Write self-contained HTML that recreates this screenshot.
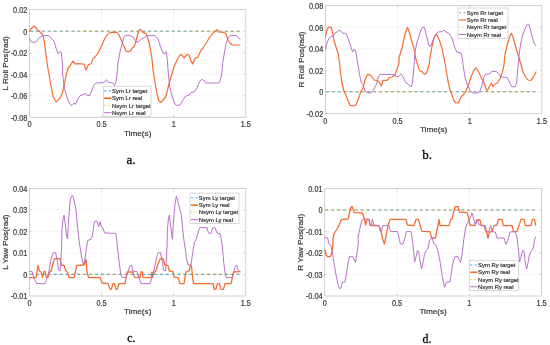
<!DOCTYPE html><html><head><meta charset="utf-8"><title>figure</title><style>html,body{margin:0;padding:0;background:#fff}svg{display:block}text{font-family:"Liberation Sans",sans-serif;stroke:#3a3a3a;stroke-width:0.22px;paint-order:stroke}</style></head><body>
<svg width="550" height="345" viewBox="0 0 550 345">
<rect width="550" height="345" fill="#fff"/>
<g>
<line x1="101.6" y1="9.6" x2="101.6" y2="117.3" stroke="#f4f4f4" stroke-width="0.8"/>
<line x1="173.7" y1="9.6" x2="173.7" y2="117.3" stroke="#f4f4f4" stroke-width="0.8"/>
<line x1="29.5" y1="31.1" x2="245.8" y2="31.1" stroke="#f4f4f4" stroke-width="0.8"/>
<line x1="29.5" y1="52.7" x2="245.8" y2="52.7" stroke="#f4f4f4" stroke-width="0.8"/>
<line x1="29.5" y1="74.2" x2="245.8" y2="74.2" stroke="#f4f4f4" stroke-width="0.8"/>
<line x1="29.5" y1="95.8" x2="245.8" y2="95.8" stroke="#f4f4f4" stroke-width="0.8"/>
<rect x="29.5" y="9.6" width="216.3" height="107.7" fill="none" stroke="#c6c6c6" stroke-width="0.8"/>
<line x1="101.6" y1="117.3" x2="101.6" y2="115.3" stroke="#c6c6c6" stroke-width="0.8"/>
<line x1="101.6" y1="9.6" x2="101.6" y2="11.6" stroke="#c6c6c6" stroke-width="0.8"/>
<line x1="173.7" y1="117.3" x2="173.7" y2="115.3" stroke="#c6c6c6" stroke-width="0.8"/>
<line x1="173.7" y1="9.6" x2="173.7" y2="11.6" stroke="#c6c6c6" stroke-width="0.8"/>
<line x1="29.5" y1="31.1" x2="31.5" y2="31.1" stroke="#c6c6c6" stroke-width="0.8"/>
<line x1="245.8" y1="31.1" x2="243.8" y2="31.1" stroke="#c6c6c6" stroke-width="0.8"/>
<line x1="29.5" y1="52.7" x2="31.5" y2="52.7" stroke="#c6c6c6" stroke-width="0.8"/>
<line x1="245.8" y1="52.7" x2="243.8" y2="52.7" stroke="#c6c6c6" stroke-width="0.8"/>
<line x1="29.5" y1="74.2" x2="31.5" y2="74.2" stroke="#c6c6c6" stroke-width="0.8"/>
<line x1="245.8" y1="74.2" x2="243.8" y2="74.2" stroke="#c6c6c6" stroke-width="0.8"/>
<line x1="29.5" y1="95.8" x2="31.5" y2="95.8" stroke="#c6c6c6" stroke-width="0.8"/>
<line x1="245.8" y1="95.8" x2="243.8" y2="95.8" stroke="#c6c6c6" stroke-width="0.8"/>
<text transform="translate(27.3,13.0) scale(0.88,1)" font-size="8.3" text-anchor="end" fill="#3a3a3a">0.02</text>
<text transform="translate(27.3,34.5) scale(0.88,1)" font-size="8.3" text-anchor="end" fill="#3a3a3a">0</text>
<text transform="translate(27.3,56.1) scale(0.88,1)" font-size="8.3" text-anchor="end" fill="#3a3a3a">-0.02</text>
<text transform="translate(27.3,77.6) scale(0.88,1)" font-size="8.3" text-anchor="end" fill="#3a3a3a">-0.04</text>
<text transform="translate(27.3,99.2) scale(0.88,1)" font-size="8.3" text-anchor="end" fill="#3a3a3a">-0.06</text>
<text transform="translate(27.3,120.7) scale(0.88,1)" font-size="8.3" text-anchor="end" fill="#3a3a3a">-0.08</text>
<text transform="translate(29.5,127.4) scale(0.88,1)" font-size="8.3" text-anchor="middle" fill="#3a3a3a">0</text>
<text transform="translate(101.6,127.4) scale(0.88,1)" font-size="8.3" text-anchor="middle" fill="#3a3a3a">0.5</text>
<text transform="translate(173.7,127.4) scale(0.88,1)" font-size="8.3" text-anchor="middle" fill="#3a3a3a">1</text>
<text transform="translate(245.8,127.4) scale(0.88,1)" font-size="8.3" text-anchor="middle" fill="#3a3a3a">1.5</text>
<text transform="translate(137.7,135.7) scale(1.12,1)" font-size="7.3" text-anchor="middle" fill="#3a3a3a">Time(s)</text>
<text transform="translate(7.8,63.4) rotate(-90) scale(1.12,1)" font-size="7.3" text-anchor="middle" fill="#3a3a3a">L Roll Pos(rad)</text>
<line x1="29.5" y1="31.2" x2="240.0" y2="31.2" stroke="#F9CF66" stroke-width="1.1" stroke-dasharray="4.2 1.7"/>
<line x1="29.5" y1="31.2" x2="240.0" y2="31.2" stroke="#55ABE9" stroke-width="1.1" stroke-dasharray="2.6 3.3" stroke-dashoffset="-0.8"/>
<polyline points="29.4,31.2 31.0,29.0 34.0,26.0 35.4,27.0 37.0,29.4 39.0,31.0 41.0,33.0 43.0,35.0 44.4,42.0 46.0,55.0 48.0,69.0 49.0,74.0 51.0,86.0 53.0,96.0 55.0,100.0 56.4,102.0 58.0,100.0 60.0,98.0 62.0,94.0 64.0,86.0 66.0,76.0 68.0,68.0 70.0,66.0 73.0,61.0 75.0,64.0 77.4,63.6 84.0,64.0 86.0,70.0 88.6,64.4 91.0,64.0 93.0,58.6 95.0,57.0 98.0,53.0 101.0,47.0 105.0,38.0 109.0,33.0 111.0,32.4 117.0,32.4 119.0,35.0 123.0,44.0 126.0,51.0 128.0,51.6 131.0,50.6 132.0,48.0 134.0,47.0 136.0,41.0 138.0,33.0 139.6,29.4 141.0,30.0 143.0,32.6 146.0,33.4 148.0,39.0 150.0,47.0 152.0,59.0 153.0,70.0 155.0,82.0 157.0,94.0 159.0,101.0 161.0,102.4 163.0,100.0 165.6,97.0 168.0,88.0 170.0,80.0 173.0,70.0 174.0,67.0 177.0,60.0 180.0,55.0 181.6,54.4 184.0,58.0 187.0,54.4 189.0,55.0 191.0,61.0 192.6,64.0 195.0,58.6 198.0,57.0 201.0,50.0 203.0,48.0 207.0,42.0 209.0,38.0 213.0,33.0 216.0,31.0 217.0,29.6 218.0,32.0 224.0,32.4 226.0,34.0 228.0,40.0 230.0,43.0 232.0,45.0 240.0,45.0" fill="none" stroke="#F36D30" stroke-width="1.2" stroke-linejoin="round" stroke-linecap="round"/>
<polyline points="29.4,38.0 31.0,41.6 33.0,42.4 36.0,42.0 39.0,38.0 42.0,36.0 45.0,35.6 49.0,35.6 51.0,38.0 54.0,41.0 56.0,48.0 58.0,53.6 60.6,51.4 61.4,53.0 62.6,65.0 62.6,74.0 64.0,86.0 66.0,94.0 68.0,100.0 70.0,104.4 72.0,105.4 74.0,103.0 75.4,104.4 77.4,100.0 79.0,97.0 81.0,95.0 83.0,95.0 85.0,93.0 87.0,95.4 90.0,95.4 92.0,90.0 94.0,85.0 96.0,83.0 104.0,82.6 106.4,79.6 108.0,82.0 113.0,83.0 114.6,85.6 116.0,82.0 117.0,74.0 118.0,63.0 120.0,52.0 122.0,44.0 124.0,37.0 125.0,35.6 130.0,35.6 133.0,37.0 136.0,42.0 139.0,41.6 141.0,39.0 144.0,38.0 147.0,35.6 155.0,35.6 158.0,39.0 160.0,45.0 162.0,51.0 164.0,54.0 166.4,52.0 167.6,63.0 168.0,70.0 169.6,86.0 172.0,96.0 175.0,104.4 177.0,105.4 180.0,105.0 183.0,100.0 185.0,97.0 187.0,95.4 189.0,95.4 191.0,92.4 194.0,92.0 197.0,88.0 200.0,81.0 201.6,79.4 203.6,80.0 205.6,83.0 219.0,83.0 221.0,78.0 222.4,68.0 222.4,65.0 224.0,55.0 226.0,44.0 228.0,38.0 230.0,35.6 236.0,35.6 239.0,38.0 240.0,39.4" fill="none" stroke="#B56CC6" stroke-width="0.95" stroke-linejoin="round" stroke-linecap="round"/>
<rect x="103.3" y="86.2" width="47.7" height="30.1" fill="#fff" stroke="#c8c8c8" stroke-width="0.7"/>
<line x1="104.2" y1="90.9" x2="111.5" y2="90.9" stroke="#55ABE9" stroke-width="1.1" stroke-dasharray="2.2 2.4"/>
<text x="112.1" y="93.0" font-size="5.9" fill="#3a3a3a">Sym Lr target</text>
<line x1="104.2" y1="98.2" x2="111.5" y2="98.2" stroke="#F36D30" stroke-width="1.8"/>
<text x="112.1" y="100.3" font-size="5.9" fill="#3a3a3a">Sym Lr real</text>
<line x1="104.2" y1="105.4" x2="111.5" y2="105.4" stroke="#F9CF66" stroke-width="1.1" stroke-dasharray="1.7 2.0"/>
<text x="112.1" y="107.5" font-size="5.9" fill="#3a3a3a">Nsym Lr target</text>
<line x1="104.2" y1="112.7" x2="111.5" y2="112.7" stroke="#B56CC6" stroke-width="1.0"/>
<text x="112.1" y="114.8" font-size="5.9" fill="#3a3a3a">Nsym Lr real</text>
<text x="131.0" y="163.7" font-size="13.2" text-anchor="middle" fill="#111" style="font-family:'Liberation Serif',serif;stroke:#111;stroke-width:0.35px">a.</text>
</g>
<g>
<line x1="397.6" y1="5.6" x2="397.6" y2="113.4" stroke="#f4f4f4" stroke-width="0.8"/>
<line x1="469.7" y1="5.6" x2="469.7" y2="113.4" stroke="#f4f4f4" stroke-width="0.8"/>
<line x1="325.4" y1="27.2" x2="541.9" y2="27.2" stroke="#f4f4f4" stroke-width="0.8"/>
<line x1="325.4" y1="48.7" x2="541.9" y2="48.7" stroke="#f4f4f4" stroke-width="0.8"/>
<line x1="325.4" y1="70.3" x2="541.9" y2="70.3" stroke="#f4f4f4" stroke-width="0.8"/>
<line x1="325.4" y1="91.8" x2="541.9" y2="91.8" stroke="#f4f4f4" stroke-width="0.8"/>
<rect x="325.4" y="5.6" width="216.5" height="107.8" fill="none" stroke="#c6c6c6" stroke-width="0.8"/>
<line x1="397.6" y1="113.4" x2="397.6" y2="111.4" stroke="#c6c6c6" stroke-width="0.8"/>
<line x1="397.6" y1="5.6" x2="397.6" y2="7.6" stroke="#c6c6c6" stroke-width="0.8"/>
<line x1="469.7" y1="113.4" x2="469.7" y2="111.4" stroke="#c6c6c6" stroke-width="0.8"/>
<line x1="469.7" y1="5.6" x2="469.7" y2="7.6" stroke="#c6c6c6" stroke-width="0.8"/>
<line x1="325.4" y1="27.2" x2="327.4" y2="27.2" stroke="#c6c6c6" stroke-width="0.8"/>
<line x1="541.9" y1="27.2" x2="539.9" y2="27.2" stroke="#c6c6c6" stroke-width="0.8"/>
<line x1="325.4" y1="48.7" x2="327.4" y2="48.7" stroke="#c6c6c6" stroke-width="0.8"/>
<line x1="541.9" y1="48.7" x2="539.9" y2="48.7" stroke="#c6c6c6" stroke-width="0.8"/>
<line x1="325.4" y1="70.3" x2="327.4" y2="70.3" stroke="#c6c6c6" stroke-width="0.8"/>
<line x1="541.9" y1="70.3" x2="539.9" y2="70.3" stroke="#c6c6c6" stroke-width="0.8"/>
<line x1="325.4" y1="91.8" x2="327.4" y2="91.8" stroke="#c6c6c6" stroke-width="0.8"/>
<line x1="541.9" y1="91.8" x2="539.9" y2="91.8" stroke="#c6c6c6" stroke-width="0.8"/>
<text transform="translate(323.2,9.0) scale(0.88,1)" font-size="8.3" text-anchor="end" fill="#3a3a3a">0.08</text>
<text transform="translate(323.2,30.6) scale(0.88,1)" font-size="8.3" text-anchor="end" fill="#3a3a3a">0.06</text>
<text transform="translate(323.2,52.1) scale(0.88,1)" font-size="8.3" text-anchor="end" fill="#3a3a3a">0.04</text>
<text transform="translate(323.2,73.7) scale(0.88,1)" font-size="8.3" text-anchor="end" fill="#3a3a3a">0.02</text>
<text transform="translate(323.2,95.2) scale(0.88,1)" font-size="8.3" text-anchor="end" fill="#3a3a3a">0</text>
<text transform="translate(323.2,116.8) scale(0.88,1)" font-size="8.3" text-anchor="end" fill="#3a3a3a">-0.02</text>
<text transform="translate(325.4,123.5) scale(0.88,1)" font-size="8.3" text-anchor="middle" fill="#3a3a3a">0</text>
<text transform="translate(397.6,123.5) scale(0.88,1)" font-size="8.3" text-anchor="middle" fill="#3a3a3a">0.5</text>
<text transform="translate(469.7,123.5) scale(0.88,1)" font-size="8.3" text-anchor="middle" fill="#3a3a3a">1</text>
<text transform="translate(541.9,123.5) scale(0.88,1)" font-size="8.3" text-anchor="middle" fill="#3a3a3a">1.5</text>
<text transform="translate(433.6,131.8) scale(1.12,1)" font-size="7.3" text-anchor="middle" fill="#3a3a3a">Time(s)</text>
<text transform="translate(303.7,59.5) rotate(-90) scale(1.12,1)" font-size="7.3" text-anchor="middle" fill="#3a3a3a">R Roll Pos(rad)</text>
<line x1="325.4" y1="91.8" x2="536.1" y2="91.8" stroke="#F9CF66" stroke-width="1.1" stroke-dasharray="4.2 1.7"/>
<line x1="325.4" y1="91.8" x2="536.1" y2="91.8" stroke="#55ABE9" stroke-width="1.1" stroke-dasharray="2.6 3.3" stroke-dashoffset="-0.8"/>
<polyline points="325.4,37.0 327.0,30.0 328.4,27.4 331.0,27.0 332.0,30.0 334.0,40.0 336.0,47.0 338.0,53.0 340.0,66.0 340.0,69.0 342.0,83.0 344.0,91.0 347.0,98.0 350.0,105.4 353.0,106.0 355.6,105.4 358.0,100.0 361.0,91.0 363.0,88.0 365.0,80.0 367.4,74.4 369.6,74.6 371.6,76.4 374.0,80.0 377.0,80.4 379.0,82.0 381.4,86.0 383.0,80.4 387.0,80.4 389.0,78.0 392.0,77.0 395.0,75.0 397.0,69.0 399.0,63.0 399.0,58.0 402.0,48.0 405.0,34.0 407.4,27.4 409.0,31.0 411.0,39.0 413.6,47.0 415.6,58.0 418.0,66.0 418.0,67.0 420.0,71.0 422.0,71.4 424.0,74.0 425.0,74.4 427.0,72.0 429.0,65.0 430.0,58.0 432.0,46.0 434.0,38.0 436.4,34.0 438.0,37.0 440.0,42.0 442.0,48.0 444.0,58.0 446.0,69.0 448.0,81.0 450.0,90.0 452.0,95.0 454.0,101.0 456.0,103.0 458.6,102.6 461.0,97.0 464.0,94.0 466.0,91.0 468.0,86.0 471.0,77.0 474.0,70.0 476.0,68.0 478.0,71.0 481.0,77.0 484.0,83.0 486.0,89.0 487.4,90.6 490.0,85.0 491.4,83.0 493.0,86.6 495.0,84.0 497.4,83.0 500.0,79.0 502.0,73.0 504.0,65.0 505.0,54.0 508.0,42.0 510.0,36.0 511.4,33.4 513.0,37.0 516.0,48.0 519.0,58.0 522.0,68.0 523.0,72.0 525.0,76.0 528.0,80.0 531.0,80.4 533.0,77.4 535.0,74.0 536.0,72.0" fill="none" stroke="#F36D30" stroke-width="1.2" stroke-linejoin="round" stroke-linecap="round"/>
<polyline points="325.4,48.6 327.0,43.0 329.0,38.0 331.0,36.6 333.0,36.0 335.0,33.0 337.0,32.0 339.0,30.4 341.0,31.0 343.0,33.4 346.0,33.4 348.0,38.0 350.0,44.0 352.6,52.0 354.4,49.0 356.0,52.0 357.4,62.0 358.4,67.0 360.0,77.0 361.4,83.0 363.0,84.6 365.0,91.0 367.6,93.0 371.0,93.0 374.0,89.0 377.0,83.0 378.0,78.0 380.0,74.4 394.0,74.4 395.6,76.6 398.4,76.6 401.0,74.0 403.0,77.0 406.0,83.0 408.0,84.0 411.0,87.0 412.4,83.0 413.6,71.0 415.0,52.0 417.0,42.0 419.0,36.0 421.0,30.0 422.4,27.4 424.4,27.4 427.0,38.0 429.0,46.0 430.6,46.4 433.0,40.0 436.0,34.0 438.0,32.0 442.0,31.6 444.0,30.0 446.0,32.0 449.0,33.6 452.0,38.0 455.0,48.0 457.0,52.4 461.0,53.0 462.6,60.0 463.0,65.0 465.0,77.0 467.0,84.0 470.0,90.0 472.6,93.0 478.0,93.0 480.0,90.6 482.0,85.0 484.0,77.0 485.4,74.4 489.0,74.0 492.0,71.4 496.0,71.4 499.0,74.0 501.0,77.0 507.0,77.4 509.0,81.0 511.4,86.4 515.0,87.0 516.6,83.0 517.6,71.0 519.4,52.0 521.0,42.0 523.0,34.0 525.0,29.0 527.0,24.4 528.6,24.0 530.0,28.0 532.0,36.0 534.0,43.0 536.0,45.6" fill="none" stroke="#B56CC6" stroke-width="0.95" stroke-linejoin="round" stroke-linecap="round"/>
<rect x="458.0" y="8.0" width="50.0" height="30.4" fill="#fff" stroke="#c8c8c8" stroke-width="0.7"/>
<line x1="458.9" y1="12.7" x2="466.2" y2="12.7" stroke="#55ABE9" stroke-width="1.1" stroke-dasharray="2.2 2.4"/>
<text x="466.8" y="14.8" font-size="5.9" fill="#3a3a3a">Sym Rr target</text>
<line x1="458.9" y1="20.0" x2="466.2" y2="20.0" stroke="#F36D30" stroke-width="1.2"/>
<text x="466.8" y="22.1" font-size="5.9" fill="#3a3a3a">Sym Rr real</text>
<line x1="458.9" y1="27.2" x2="466.2" y2="27.2" stroke="#F9CF66" stroke-width="1.1" stroke-dasharray="1.7 2.0"/>
<text x="466.8" y="29.3" font-size="5.9" fill="#3a3a3a">Nsym Rr target</text>
<line x1="458.9" y1="34.5" x2="466.2" y2="34.5" stroke="#B56CC6" stroke-width="1.0"/>
<text x="466.8" y="36.6" font-size="5.9" fill="#3a3a3a">Nsym Rr real</text>
<text x="427.0" y="159.2" font-size="13.0" text-anchor="middle" fill="#111" style="font-family:'Liberation Serif',serif;stroke:#111;stroke-width:0.35px">b.</text>
</g>
<g>
<line x1="101.6" y1="188.4" x2="101.6" y2="296.0" stroke="#f4f4f4" stroke-width="0.8"/>
<line x1="173.7" y1="188.4" x2="173.7" y2="296.0" stroke="#f4f4f4" stroke-width="0.8"/>
<line x1="29.5" y1="209.9" x2="245.8" y2="209.9" stroke="#f4f4f4" stroke-width="0.8"/>
<line x1="29.5" y1="231.4" x2="245.8" y2="231.4" stroke="#f4f4f4" stroke-width="0.8"/>
<line x1="29.5" y1="253.0" x2="245.8" y2="253.0" stroke="#f4f4f4" stroke-width="0.8"/>
<line x1="29.5" y1="274.5" x2="245.8" y2="274.5" stroke="#f4f4f4" stroke-width="0.8"/>
<rect x="29.5" y="188.4" width="216.3" height="107.6" fill="none" stroke="#c6c6c6" stroke-width="0.8"/>
<line x1="101.6" y1="296.0" x2="101.6" y2="294.0" stroke="#c6c6c6" stroke-width="0.8"/>
<line x1="101.6" y1="188.4" x2="101.6" y2="190.4" stroke="#c6c6c6" stroke-width="0.8"/>
<line x1="173.7" y1="296.0" x2="173.7" y2="294.0" stroke="#c6c6c6" stroke-width="0.8"/>
<line x1="173.7" y1="188.4" x2="173.7" y2="190.4" stroke="#c6c6c6" stroke-width="0.8"/>
<line x1="29.5" y1="209.9" x2="31.5" y2="209.9" stroke="#c6c6c6" stroke-width="0.8"/>
<line x1="245.8" y1="209.9" x2="243.8" y2="209.9" stroke="#c6c6c6" stroke-width="0.8"/>
<line x1="29.5" y1="231.4" x2="31.5" y2="231.4" stroke="#c6c6c6" stroke-width="0.8"/>
<line x1="245.8" y1="231.4" x2="243.8" y2="231.4" stroke="#c6c6c6" stroke-width="0.8"/>
<line x1="29.5" y1="253.0" x2="31.5" y2="253.0" stroke="#c6c6c6" stroke-width="0.8"/>
<line x1="245.8" y1="253.0" x2="243.8" y2="253.0" stroke="#c6c6c6" stroke-width="0.8"/>
<line x1="29.5" y1="274.5" x2="31.5" y2="274.5" stroke="#c6c6c6" stroke-width="0.8"/>
<line x1="245.8" y1="274.5" x2="243.8" y2="274.5" stroke="#c6c6c6" stroke-width="0.8"/>
<text transform="translate(27.3,191.8) scale(0.88,1)" font-size="8.3" text-anchor="end" fill="#3a3a3a">0.04</text>
<text transform="translate(27.3,213.3) scale(0.88,1)" font-size="8.3" text-anchor="end" fill="#3a3a3a">0.03</text>
<text transform="translate(27.3,234.8) scale(0.88,1)" font-size="8.3" text-anchor="end" fill="#3a3a3a">0.02</text>
<text transform="translate(27.3,256.4) scale(0.88,1)" font-size="8.3" text-anchor="end" fill="#3a3a3a">0.01</text>
<text transform="translate(27.3,277.9) scale(0.88,1)" font-size="8.3" text-anchor="end" fill="#3a3a3a">0</text>
<text transform="translate(27.3,299.4) scale(0.88,1)" font-size="8.3" text-anchor="end" fill="#3a3a3a">-0.01</text>
<text transform="translate(29.5,306.1) scale(0.88,1)" font-size="8.3" text-anchor="middle" fill="#3a3a3a">0</text>
<text transform="translate(101.6,306.1) scale(0.88,1)" font-size="8.3" text-anchor="middle" fill="#3a3a3a">0.5</text>
<text transform="translate(173.7,306.1) scale(0.88,1)" font-size="8.3" text-anchor="middle" fill="#3a3a3a">1</text>
<text transform="translate(245.8,306.1) scale(0.88,1)" font-size="8.3" text-anchor="middle" fill="#3a3a3a">1.5</text>
<text transform="translate(137.7,314.4) scale(1.12,1)" font-size="7.3" text-anchor="middle" fill="#3a3a3a">Time(s)</text>
<text transform="translate(7.8,242.2) rotate(-90) scale(1.12,1)" font-size="7.3" text-anchor="middle" fill="#3a3a3a">L Yaw Pos(rad)</text>
<line x1="29.5" y1="274.4" x2="240.0" y2="274.4" stroke="#F9CF66" stroke-width="1.1" stroke-dasharray="4.2 1.7"/>
<line x1="29.5" y1="274.4" x2="240.0" y2="274.4" stroke="#55ABE9" stroke-width="1.1" stroke-dasharray="2.6 3.3" stroke-dashoffset="-0.8"/>
<polyline points="29.4,277.6 36.0,277.6 37.0,272.0 38.0,265.4 39.4,271.0 41.0,272.0 42.4,277.0 44.0,271.4 45.0,271.4 46.4,277.4 48.0,277.4 49.4,272.0 51.0,271.4 52.6,265.0 54.4,258.6 60.0,258.6 61.4,265.0 64.0,265.4 66.0,271.4 67.4,272.0 69.0,277.6 74.0,277.6 75.4,272.0 76.6,265.4 84.0,265.0 86.0,259.4 87.0,272.0 88.6,277.6 100.0,277.6 102.0,283.0 108.0,283.6 110.0,289.4 111.4,289.0 113.0,283.6 114.4,283.6 116.0,289.4 117.4,289.0 119.0,283.6 125.0,283.6 126.0,278.0 127.4,272.0 133.0,272.0 134.4,277.0 136.0,277.6 138.0,277.0 140.0,277.6 141.0,272.0 142.4,272.0 143.0,277.6 151.0,277.6 152.0,272.0 152.6,277.0 154.0,272.0 155.6,271.6 157.6,265.0 160.0,259.0 163.0,258.6 165.0,265.0 168.0,265.4 169.4,271.0 173.0,271.6 174.0,277.0 178.0,277.6 180.0,283.6 184.0,283.6 185.0,277.6 186.0,272.0 189.0,271.0 190.6,265.0 191.6,267.0 192.6,277.6 193.6,283.6 213.0,283.6 214.4,289.4 216.0,289.0 217.4,283.6 219.4,283.6 221.0,289.4 223.4,289.4 225.0,283.6 231.0,283.6 232.4,277.6 233.6,272.0 240.0,271.6" fill="none" stroke="#F36D30" stroke-width="1.3" stroke-linejoin="round" stroke-linecap="round"/>
<polyline points="29.4,271.4 32.0,271.4 34.0,278.0 36.6,283.6 45.0,283.6 47.0,278.0 49.0,271.0 51.0,259.0 53.0,253.0 55.6,252.6 57.0,259.0 58.6,270.0 60.0,271.0 61.0,259.0 61.6,247.0 62.0,230.0 63.0,219.0 64.0,215.0 65.0,222.0 66.4,235.0 67.4,239.0 68.6,220.0 70.0,202.0 71.4,196.0 72.6,195.4 74.0,200.0 76.0,210.0 77.4,226.0 79.0,240.0 80.0,247.0 82.0,259.0 83.4,265.0 85.0,259.0 86.6,247.0 88.0,240.0 88.6,240.0 91.0,239.4 92.4,236.0 94.0,224.0 95.0,221.0 97.0,221.0 98.6,227.0 100.0,221.6 101.4,227.0 103.0,228.0 104.6,233.0 116.0,233.4 117.0,242.0 117.4,247.0 119.0,261.0 120.6,273.0 122.0,277.4 126.0,277.4 128.0,271.0 130.0,266.0 131.6,265.0 133.0,271.0 137.0,271.6 139.0,277.4 141.0,283.6 150.0,283.6 152.0,278.0 154.0,270.0 156.0,260.0 158.0,253.0 160.4,252.6 162.0,260.0 163.6,270.0 165.4,271.0 166.4,259.0 167.0,247.0 167.4,230.0 168.4,219.0 169.4,215.0 170.6,226.0 172.4,239.4 173.6,220.0 175.0,204.0 176.4,196.0 178.0,202.0 180.0,210.0 181.6,217.0 183.0,232.0 184.4,244.0 185.0,247.0 186.6,259.0 188.0,265.0 191.0,265.0 192.4,255.0 194.0,245.0 194.4,242.0 196.0,240.0 198.0,233.0 199.6,227.6 207.0,227.6 208.4,233.0 211.0,233.4 212.4,228.0 215.0,227.6 217.0,233.0 220.0,233.6 221.0,238.0 222.0,244.0 222.4,247.0 223.6,261.0 225.0,273.0 226.0,277.6 232.0,277.6 233.6,273.0 235.0,267.0 236.6,265.0 238.0,270.0 240.0,272.0" fill="none" stroke="#B56CC6" stroke-width="0.95" stroke-linejoin="round" stroke-linecap="round"/>
<rect x="190.0" y="193.1" width="49.0" height="30.3" fill="#fff" stroke="#c8c8c8" stroke-width="0.7"/>
<line x1="190.9" y1="197.8" x2="198.2" y2="197.8" stroke="#55ABE9" stroke-width="1.1" stroke-dasharray="2.2 2.4"/>
<text x="198.8" y="199.9" font-size="5.9" fill="#3a3a3a">Sym Ly target</text>
<line x1="190.9" y1="205.1" x2="198.2" y2="205.1" stroke="#F36D30" stroke-width="1.6"/>
<text x="198.8" y="207.2" font-size="5.9" fill="#3a3a3a">Sym Ly real</text>
<line x1="190.9" y1="212.3" x2="198.2" y2="212.3" stroke="#F9CF66" stroke-width="1.1" stroke-dasharray="1.7 2.0"/>
<text x="198.8" y="214.4" font-size="5.9" fill="#3a3a3a">Nsym Ly target</text>
<line x1="190.9" y1="219.6" x2="198.2" y2="219.6" stroke="#B56CC6" stroke-width="1.0"/>
<text x="198.8" y="221.7" font-size="5.9" fill="#3a3a3a">Nsym Ly real</text>
<text x="131.3" y="342.4" font-size="11.7" text-anchor="middle" fill="#111" style="font-family:'Liberation Serif',serif;stroke:#111;stroke-width:0.35px">c.</text>
</g>
<g>
<line x1="397.0" y1="188.4" x2="397.0" y2="296.0" stroke="#f4f4f4" stroke-width="0.8"/>
<line x1="469.3" y1="188.4" x2="469.3" y2="296.0" stroke="#f4f4f4" stroke-width="0.8"/>
<line x1="324.7" y1="209.9" x2="541.6" y2="209.9" stroke="#f4f4f4" stroke-width="0.8"/>
<line x1="324.7" y1="231.4" x2="541.6" y2="231.4" stroke="#f4f4f4" stroke-width="0.8"/>
<line x1="324.7" y1="253.0" x2="541.6" y2="253.0" stroke="#f4f4f4" stroke-width="0.8"/>
<line x1="324.7" y1="274.5" x2="541.6" y2="274.5" stroke="#f4f4f4" stroke-width="0.8"/>
<rect x="324.7" y="188.4" width="216.9" height="107.6" fill="none" stroke="#c6c6c6" stroke-width="0.8"/>
<line x1="397.0" y1="296.0" x2="397.0" y2="294.0" stroke="#c6c6c6" stroke-width="0.8"/>
<line x1="397.0" y1="188.4" x2="397.0" y2="190.4" stroke="#c6c6c6" stroke-width="0.8"/>
<line x1="469.3" y1="296.0" x2="469.3" y2="294.0" stroke="#c6c6c6" stroke-width="0.8"/>
<line x1="469.3" y1="188.4" x2="469.3" y2="190.4" stroke="#c6c6c6" stroke-width="0.8"/>
<line x1="324.7" y1="209.9" x2="326.7" y2="209.9" stroke="#c6c6c6" stroke-width="0.8"/>
<line x1="541.6" y1="209.9" x2="539.6" y2="209.9" stroke="#c6c6c6" stroke-width="0.8"/>
<line x1="324.7" y1="231.4" x2="326.7" y2="231.4" stroke="#c6c6c6" stroke-width="0.8"/>
<line x1="541.6" y1="231.4" x2="539.6" y2="231.4" stroke="#c6c6c6" stroke-width="0.8"/>
<line x1="324.7" y1="253.0" x2="326.7" y2="253.0" stroke="#c6c6c6" stroke-width="0.8"/>
<line x1="541.6" y1="253.0" x2="539.6" y2="253.0" stroke="#c6c6c6" stroke-width="0.8"/>
<line x1="324.7" y1="274.5" x2="326.7" y2="274.5" stroke="#c6c6c6" stroke-width="0.8"/>
<line x1="541.6" y1="274.5" x2="539.6" y2="274.5" stroke="#c6c6c6" stroke-width="0.8"/>
<text transform="translate(322.5,191.8) scale(0.88,1)" font-size="8.3" text-anchor="end" fill="#3a3a3a">0.01</text>
<text transform="translate(322.5,213.3) scale(0.88,1)" font-size="8.3" text-anchor="end" fill="#3a3a3a">0</text>
<text transform="translate(322.5,234.8) scale(0.88,1)" font-size="8.3" text-anchor="end" fill="#3a3a3a">-0.01</text>
<text transform="translate(322.5,256.4) scale(0.88,1)" font-size="8.3" text-anchor="end" fill="#3a3a3a">-0.02</text>
<text transform="translate(322.5,277.9) scale(0.88,1)" font-size="8.3" text-anchor="end" fill="#3a3a3a">-0.03</text>
<text transform="translate(322.5,299.4) scale(0.88,1)" font-size="8.3" text-anchor="end" fill="#3a3a3a">-0.04</text>
<text transform="translate(324.7,306.1) scale(0.88,1)" font-size="8.3" text-anchor="middle" fill="#3a3a3a">0</text>
<text transform="translate(397.0,306.1) scale(0.88,1)" font-size="8.3" text-anchor="middle" fill="#3a3a3a">0.5</text>
<text transform="translate(469.3,306.1) scale(0.88,1)" font-size="8.3" text-anchor="middle" fill="#3a3a3a">1</text>
<text transform="translate(541.6,306.1) scale(0.88,1)" font-size="8.3" text-anchor="middle" fill="#3a3a3a">1.5</text>
<text transform="translate(433.1,314.4) scale(1.12,1)" font-size="7.3" text-anchor="middle" fill="#3a3a3a">Time(s)</text>
<text transform="translate(303.0,242.2) rotate(-90) scale(1.12,1)" font-size="7.3" text-anchor="middle" fill="#3a3a3a">R Yaw Pos(rad)</text>
<line x1="324.7" y1="210.0" x2="535.8" y2="210.0" stroke="#F9CF66" stroke-width="1.1" stroke-dasharray="4.2 1.7"/>
<line x1="324.7" y1="210.0" x2="535.8" y2="210.0" stroke="#55ABE9" stroke-width="1.1" stroke-dasharray="2.6 3.3" stroke-dashoffset="-0.8"/>
<polyline points="325.0,250.0 326.0,255.0 327.6,256.6 330.4,256.6 332.0,252.0 333.0,243.0 333.0,238.0 334.4,233.0 337.0,229.0 339.0,225.6 341.0,220.0 342.4,219.4 348.0,219.0 349.4,213.0 350.6,208.0 352.0,206.4 353.4,210.0 354.4,212.6 362.4,213.0 363.6,216.4 364.4,219.0 365.6,225.0 367.0,219.4 369.0,219.4 370.4,225.6 379.0,225.6 381.0,232.0 383.0,240.0 384.4,244.0 386.0,236.0 388.0,225.6 390.0,219.4 406.0,219.4 407.4,225.0 414.0,225.6 416.0,219.4 418.4,219.4 420.0,225.0 422.0,231.4 430.0,231.6 431.6,238.0 435.4,238.0 436.6,232.0 438.0,225.6 439.0,219.4 440.0,225.6 449.0,225.6 450.6,219.4 452.0,219.0 453.4,213.0 455.0,207.0 458.0,206.4 459.4,212.0 467.0,212.6 468.6,218.0 470.0,225.0 475.0,225.6 476.6,220.0 480.0,220.0 481.4,225.6 485.0,225.6 486.6,231.6 488.0,238.0 489.4,232.0 492.0,231.6 494.0,225.6 497.0,225.0 498.4,219.4 502.0,219.4 503.4,225.6 512.0,225.6 513.6,231.6 517.0,231.6 519.0,225.6 521.0,219.4 524.0,219.4 525.4,225.6 531.0,225.6 532.4,219.4 534.4,219.4 535.6,225.0" fill="none" stroke="#F36D30" stroke-width="1.3" stroke-linejoin="round" stroke-linecap="round"/>
<polyline points="325.0,237.6 327.6,238.0 329.0,244.0 331.0,246.0 332.4,253.0 334.0,263.0 336.0,275.0 338.0,284.0 339.6,288.6 341.0,288.0 342.4,282.0 345.0,282.0 346.4,274.0 348.0,263.0 349.6,256.6 353.0,256.6 355.4,262.6 357.0,253.0 358.4,243.0 358.0,238.0 360.0,228.0 362.0,220.0 363.6,219.0 369.0,219.4 370.0,225.0 371.6,225.0 372.4,219.4 374.0,225.0 379.0,225.6 380.4,231.0 381.6,231.4 382.6,225.6 389.0,225.6 390.4,231.4 397.6,231.6 399.0,238.0 400.4,244.0 403.0,244.0 405.0,238.0 406.4,231.6 411.0,231.6 412.4,240.0 413.6,251.0 414.6,262.0 416.0,257.0 417.4,250.6 418.6,251.0 420.0,261.0 421.6,269.0 423.0,263.0 424.4,255.0 426.0,250.6 428.0,249.0 429.4,241.0 430.0,240.0 432.0,237.6 434.0,244.0 436.0,245.0 438.0,251.0 440.0,261.0 442.0,275.0 444.6,287.4 446.6,282.0 450.0,282.0 451.6,271.0 453.4,261.0 455.0,256.6 458.0,256.6 460.6,262.6 462.0,255.0 463.4,243.0 464.0,238.0 465.6,228.0 467.4,223.0 469.4,220.0 472.0,213.0 473.4,218.0 475.4,225.0 477.4,219.4 479.0,225.0 484.0,225.6 485.6,231.6 488.6,232.0 490.6,225.6 492.0,231.6 495.4,232.0 497.0,238.0 504.0,238.0 506.0,244.4 508.0,240.0 510.0,232.0 515.0,231.6 516.6,236.0 517.4,241.0 518.6,251.0 519.6,262.0 521.0,257.0 522.6,250.6 524.0,251.0 525.0,261.0 526.6,269.0 528.0,263.0 529.4,255.0 531.0,251.0 533.0,249.0 534.4,241.0 534.4,240.0 535.6,237.0" fill="none" stroke="#B56CC6" stroke-width="0.95" stroke-linejoin="round" stroke-linecap="round"/>
<rect x="469.3" y="260.3" width="49.3" height="30.2" fill="#fff" stroke="#c8c8c8" stroke-width="0.7"/>
<line x1="470.2" y1="265.0" x2="477.5" y2="265.0" stroke="#55ABE9" stroke-width="1.1" stroke-dasharray="2.2 2.4"/>
<text x="478.1" y="267.1" font-size="5.9" fill="#3a3a3a">Sym Ry target</text>
<line x1="470.2" y1="272.3" x2="477.5" y2="272.3" stroke="#F36D30" stroke-width="1.7"/>
<text x="478.1" y="274.4" font-size="5.9" fill="#3a3a3a">Sym Ry real</text>
<line x1="470.2" y1="279.5" x2="477.5" y2="279.5" stroke="#F9CF66" stroke-width="1.1" stroke-dasharray="1.7 2.0"/>
<text x="478.1" y="281.6" font-size="5.9" fill="#3a3a3a">Nsym Ry target</text>
<line x1="470.2" y1="286.8" x2="477.5" y2="286.8" stroke="#B56CC6" stroke-width="1.0"/>
<text x="478.1" y="288.9" font-size="5.9" fill="#3a3a3a">Nsym Ry real</text>
<text x="427.0" y="342.5" font-size="12.0" text-anchor="middle" fill="#111" style="font-family:'Liberation Serif',serif;stroke:#111;stroke-width:0.35px">d.</text>
</g>
</svg></body></html>
